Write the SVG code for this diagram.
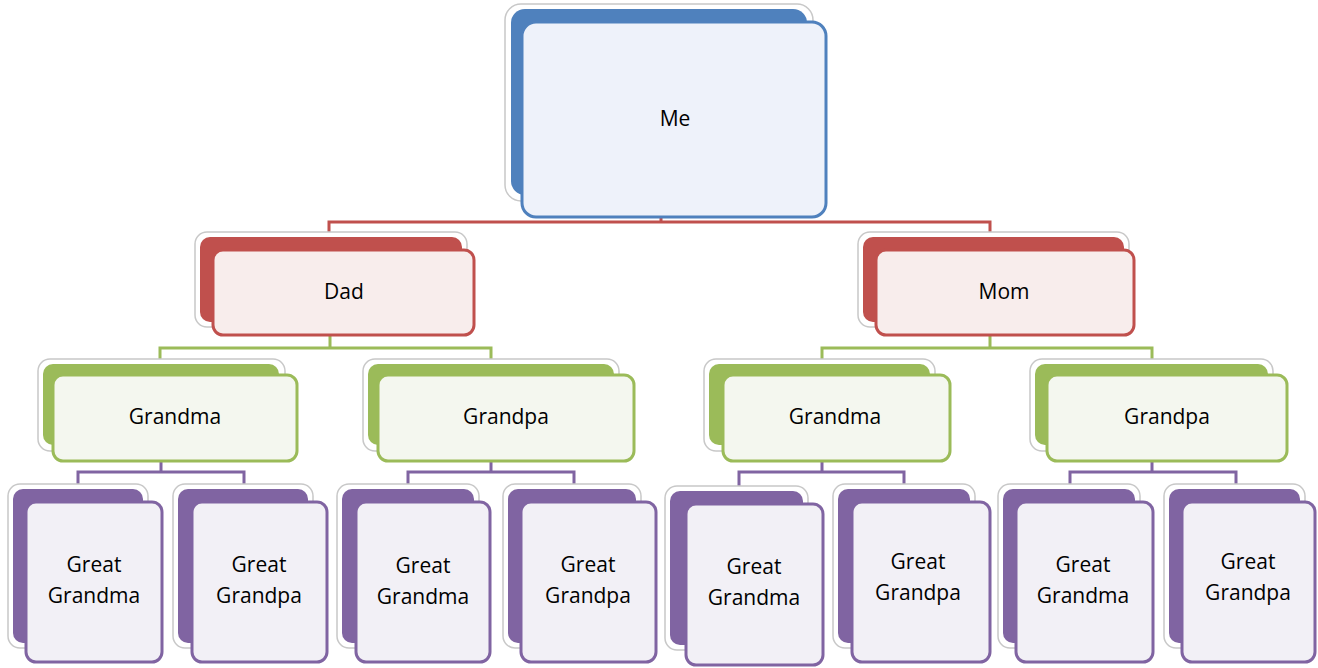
<svg xmlns="http://www.w3.org/2000/svg" width="1318" height="668" viewBox="0 0 1318 668">
<style>
.bk{fill:#fff;stroke:#c8c8c8;stroke-width:1.5}
text{font-family:"Open Sans","Liberation Sans",sans-serif;font-size:21px;fill:#000;text-anchor:middle}
.b{fill:#4F81BD}.bf{fill:#EEF2FA;stroke:#4F81BD;stroke-width:3}
.r{fill:#C0504D}.rf{fill:#F8EDEC;stroke:#C0504D;stroke-width:3}
.g{fill:#9BBB59}.gf{fill:#F4F7EF;stroke:#9BBB59;stroke-width:3}
.p{fill:#8064A2}.pf{fill:#F2F0F6;stroke:#8064A2;stroke-width:3}
.c{fill:none;stroke-width:3}
</style>
<g id="connectors">
<path class="c" stroke="#C0504D" d="M661 217V222M329 237V222H990V237"/>
<path class="c" stroke="#9BBB59" d="M330 335V348M160 364V348H491V364M990 335V348M822 364V348H1152V364"/>
<path class="c" stroke="#8064A2" d="M161 461V472M78 489V472H244V489M491 461V472M408 489V472H574V489M822 461V472M739 489V472H904V489M1152 461V472M1070 489V472H1236V489"/>
</g>
<g id="me"><rect class="bk" x="505" y="4" width="308" height="197" rx="16"/><rect class="b" x="511" y="9" width="296" height="186" rx="14"/><rect class="bf" x="522" y="22" width="304" height="195" rx="14"/><text x="675" y="126">Me</text></g>
<g id="dad"><rect class="bk" x="195" y="232" width="272" height="95" rx="12"/><rect class="r" x="200" y="237" width="262" height="85" rx="10"/><rect class="rf" x="213" y="250" width="261" height="85" rx="10"/><text x="344" y="299">Dad</text></g>
<g id="mom"><rect class="bk" x="858" y="232" width="271" height="95" rx="12"/><rect class="r" x="863" y="237" width="261" height="85" rx="10"/><rect class="rf" x="876" y="250" width="258" height="85" rx="10"/><text x="1004" y="299">Mom</text></g>
<g id="grandma1"><rect class="bk" x="38" y="359" width="247" height="92" rx="12"/><rect class="g" x="43" y="364" width="236" height="81" rx="10"/><rect class="gf" x="53" y="375" width="244" height="86" rx="10"/><text x="175" y="424">Grandma</text></g>
<g id="grandpa1"><rect class="bk" x="363" y="359" width="256" height="92" rx="12"/><rect class="g" x="368" y="364" width="246" height="81" rx="10"/><rect class="gf" x="378" y="375" width="256" height="86" rx="10"/><text x="506" y="424">Grandpa</text></g>
<g id="grandma2"><rect class="bk" x="704" y="359" width="231" height="92" rx="12"/><rect class="g" x="709" y="364" width="221" height="81" rx="10"/><rect class="gf" x="723" y="375" width="227" height="86" rx="10"/><text x="835" y="424">Grandma</text></g>
<g id="grandpa2"><rect class="bk" x="1030" y="359" width="243" height="92" rx="12"/><rect class="g" x="1035" y="364" width="233" height="81" rx="10"/><rect class="gf" x="1047" y="375" width="240" height="86" rx="10"/><text x="1167" y="424">Grandpa</text></g>
<g id="gg1"><rect class="bk" x="8" y="484" width="140" height="164" rx="12"/><rect class="p" x="13" y="489" width="130" height="154" rx="10"/><rect class="pf" x="26" y="502" width="136" height="160" rx="10"/><text x="94" y="572">Great</text><text x="94" y="603">Grandma</text></g>
<g id="gg2"><rect class="bk" x="173" y="484" width="140" height="164" rx="12"/><rect class="p" x="178" y="489" width="130" height="154" rx="10"/><rect class="pf" x="192" y="502" width="135" height="160" rx="10"/><text x="259" y="572">Great</text><text x="259" y="603">Grandpa</text></g>
<g id="gg3"><rect class="bk" x="337" y="484" width="142" height="164" rx="12"/><rect class="p" x="342" y="489" width="132" height="154" rx="10"/><rect class="pf" x="356" y="502" width="134" height="160" rx="10"/><text x="423" y="573">Great</text><text x="423" y="604">Grandma</text></g>
<g id="gg4"><rect class="bk" x="503" y="484" width="138" height="164" rx="12"/><rect class="p" x="508" y="489" width="128" height="154" rx="10"/><rect class="pf" x="521" y="502" width="135" height="160" rx="10"/><text x="588" y="572">Great</text><text x="588" y="603">Grandpa</text></g>
<g id="gg5"><rect class="bk" x="665" y="486" width="143" height="164" rx="12"/><rect class="p" x="670" y="491" width="133" height="154" rx="10"/><rect class="pf" x="686" y="504" width="137" height="161" rx="10"/><text x="754" y="574">Great</text><text x="754" y="605">Grandma</text></g>
<g id="gg6"><rect class="bk" x="833" y="484" width="142" height="164" rx="12"/><rect class="p" x="838" y="489" width="132" height="154" rx="10"/><rect class="pf" x="852" y="502" width="138" height="160" rx="10"/><text x="918" y="569">Great</text><text x="918" y="600">Grandpa</text></g>
<g id="gg7"><rect class="bk" x="998" y="484" width="142" height="164" rx="12"/><rect class="p" x="1003" y="489" width="132" height="154" rx="10"/><rect class="pf" x="1016" y="502" width="137" height="160" rx="10"/><text x="1083" y="572">Great</text><text x="1083" y="603">Grandma</text></g>
<g id="gg8"><rect class="bk" x="1164" y="484" width="141" height="164" rx="12"/><rect class="p" x="1169" y="489" width="131" height="154" rx="10"/><rect class="pf" x="1182" y="502" width="133" height="160" rx="10"/><text x="1248" y="569">Great</text><text x="1248" y="600">Grandpa</text></g>
</svg>
